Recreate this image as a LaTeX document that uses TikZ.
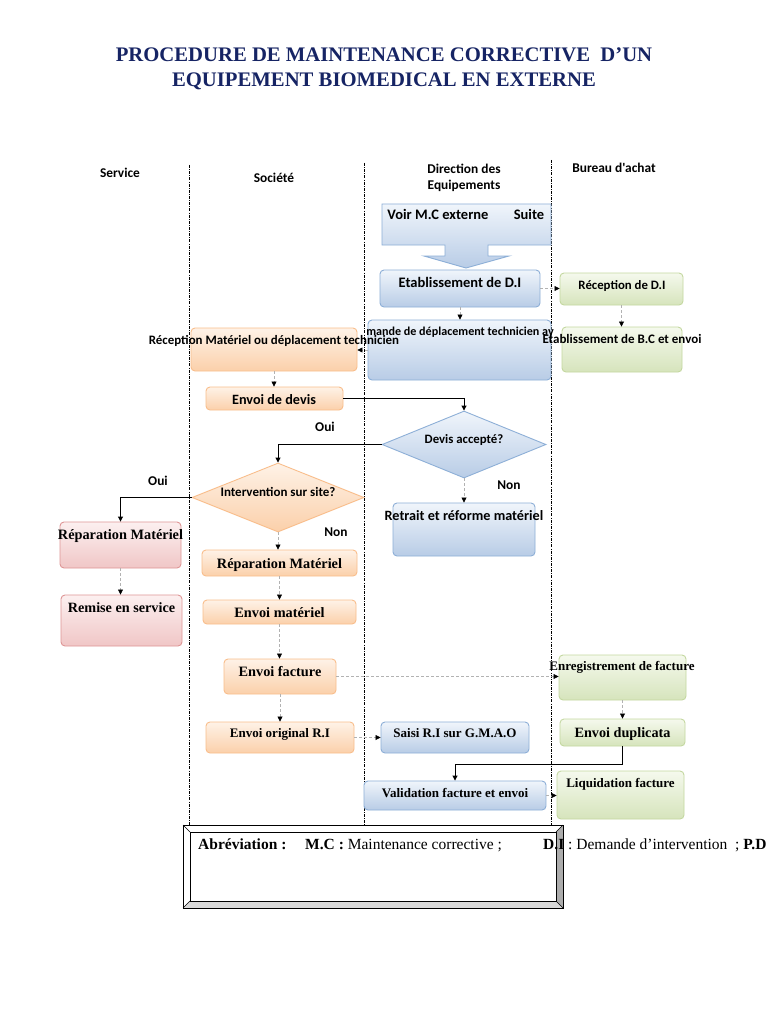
\documentclass[tikz,border=0pt]{standalone}
\usepackage{fontspec}
\setmainfont{Liberation Serif}
\newfontfamily\cb{Carlito}
\usetikzlibrary{arrows.meta,fit,shapes.geometric}
\definecolor{titlec}{RGB}{22,36,100}
\definecolor{bluetop}{RGB}{240,245,251}
\definecolor{bluebot}{RGB}{184,204,230}
\definecolor{bluedraw}{RGB}{141,175,215}
\definecolor{orgtop}{RGB}{254,242,231}
\definecolor{orgbot}{RGB}{251,208,170}
\definecolor{orgdraw}{RGB}{249,190,140}
\definecolor{grntop}{RGB}{245,249,237}
\definecolor{grnbot}{RGB}{214,228,188}
\definecolor{grndraw}{RGB}{196,216,160}
\definecolor{redtop}{RGB}{252,240,240}
\definecolor{redbot}{RGB}{240,198,198}
\definecolor{reddraw}{RGB}{222,150,150}
\tikzset{
  box/.style={rounded corners=4pt, line width=0.9pt, inner sep=0pt},
  bbox/.style={box, draw=bluedraw, top color=bluetop, bottom color=bluebot},
  obox/.style={box, draw=orgdraw, top color=orgtop, bottom color=orgbot},
  gbox/.style={box, draw=grndraw, top color=grntop, bottom color=grnbot},
  rbox/.style={box, draw=reddraw, top color=redtop, bottom color=redbot},
  lane/.style={black, line width=0.7pt, dash pattern=on 3pt off 1.2pt on 0.8pt off 1.2pt},
  con/.style={gray!60, line width=0.7pt, dash pattern=on 3pt off 2pt, -{Triangle[length=5pt,width=5pt,color=black]}},
  scon/.style={black, line width=0.9pt, -{Triangle[length=5pt,width=5pt]}},
  txt/.style={anchor=base, inner sep=0pt},
  hd/.style={txt, font=\cb\bfseries\fontsize{13.4}{15}\selectfont},
  ct/.style={txt, font=\cb\bfseries\fontsize{#1}{#1}\selectfont},
  tt/.style={txt, font=\bfseries\fontsize{#1}{#1}\selectfont},
}
\begin{document}
\begin{tikzpicture}[x=1pt,y=-1pt]
\useasboundingbox[fill=white] (0,0) rectangle (768,1024);

% title
\node[txt, text=titlec, font=\bfseries\fontsize{20.7}{21}\selectfont] (t1) at (384,62) {PROCEDURE DE MAINTENANCE CORRECTIVE\ \ D’UN};
\node[txt, text=titlec, font=\bfseries\fontsize{20.7}{21}\selectfont] (t2) at (384,87) {EQUIPEMENT BIOMEDICAL EN EXTERNE};

% lane headers
\node[hd] (h1) at (120,178) {Service};
\node[hd] (h2) at (274,183) {Société};
\node[hd] (h3) at (464,174) {Direction des};
\node[hd] (h3b) at (464,190) {Equipements};
\node[hd] (h4) at (614,173) {Bureau d{\char"27}achat};

% lanes
\draw[lane] (189,165) -- (189,825);
\draw[lane] (364,163) -- (364,825);
\draw[lane] (551,160) -- (551,825);

% top arrow shape
\path[draw=bluedraw, line width=0.9pt, top color=bluetop, bottom color=bluebot]
  (382,204) -- (551,204) -- (551,245) -- (488,245) -- (488,256) -- (509,256)
  -- (466,268) -- (424,256) -- (445,256) -- (445,245) -- (382,245) -- cycle;
\node[ct=14.5] (voir) at (438,220) {Voir M.C externe};
\node[ct=14.5] (suite) at (529,220) {Suite};

% boxes
\node[bbox, fit={(380,270)(540,307)}] (edi) {};
\node[ct=14.5] at (460,287) {Etablissement de D.I};
\node[gbox, fit={(560,273)(683,305)}] (rdi) {};
\node[ct=12.8] at (622,289) {Réception de D.I};
\node[gbox, fit={(562,327)(682,372)}] (ebc) {};
\node[bbox, fit={(368,320)(551,380)}] (dem) {};
\node[obox, fit={(191,328)(357,371)}] (rec) {};
\node[ct=12.1] (tdem) at (460,335) {mande de déplacement technicien av};
\node[ct=12.9] (trec) at (274,344) {Réception Matériel ou déplacement technicien};
\node[ct=13] (tebc) at (622,343) {Etablissement de B.C et envoi};

\node[obox, fit={(206,387)(343,410)}] (dev) {};
\node[ct=14.2] at (274,404) {Envoi de devis};

\node[diamond, draw=bluedraw, line width=0.9pt, top color=bluetop, bottom color=bluebot,
      minimum width=164pt, minimum height=67pt, inner sep=0pt] (dva) at (464,444.5) {};
\node[ct=12.8] at (464,443.5) {Devis accepté?};
\node[ct=13.4] (oui1) at (325,431.5) {Oui};
\node[ct=13.4] (non1) at (509,489.5) {Non};

\node[bbox, fit={(393,503)(535,556)}] (ret) {};
\node[ct=14.2] at (464,520.5) {Retrait et réforme matériel};

\node[diamond, draw=orgdraw, line width=0.9pt, top color=orgtop, bottom color=orgbot,
      minimum width=172pt, minimum height=69pt, inner sep=0pt] (int) at (278,497.5) {};
\node[ct=13] at (278,496.5) {Intervention sur site?};
\node[ct=13.4] (oui2) at (158,485.5) {Oui};
\node[ct=13.4] (non2) at (336,536.5) {Non};

\node[rbox, fit={(60,522)(181,568)}] (rep1) {};
\node[tt=14.3] at (120.5,539) {Réparation Matériel};
\node[rbox, fit={(61,595)(182,646)}] (rem) {};
\node[tt=14.2] at (121.5,612) {Remise en service};

\node[obox, fit={(202,550)(357,576)}] (rep2) {};
\node[tt=14.3] at (279.5,568) {Réparation Matériel};
\node[obox, fit={(203,600)(356,624)}] (envm) {};
\node[tt=14.3] at (279.5,617) {Envoi matériel};
\node[obox, fit={(224,659)(336,694)}] (envf) {};
\node[tt=14.3] at (280,676) {Envoi facture};
\node[obox, fit={(206,722)(354,753)}] (envo) {};
\node[tt=13] at (280,737.5) {Envoi original R.I};
\node[bbox, fit={(381,722)(529,753)}] (saisi) {};
\node[tt=13] at (455,737.5) {Saisi R.I sur G.M.A.O};

\node[gbox, fit={(559,655)(686,700)}] (enr) {};
\node[tt=13] at (622,670.5) {Enregistrement de facture};
\node[gbox, fit={(560,719)(685,746)}] (dup) {};
\node[tt=14.2] at (622.5,737) {Envoi duplicata};
\node[bbox, fit={(364,781)(546,810)}] (val) {};
\node[tt=13] at (455,797.5) {Validation facture et envoi};
\node[gbox, fit={(557,771)(684,819)}] (liq) {};
\node[tt=13] at (620.5,787.5) {Liquidation facture};

% connectors
\draw[con] (edi.east) -- (edi.east -| rdi.west);
\draw[con] (rdi.south) -- (rdi.south |- ebc.north);
\draw[con] (edi.south) -- (edi.south |- dem.north);
\draw[con] (dem.west) -- (dem.west -| rec.east);
\draw[con] (rec.south) -- (rec.south |- dev.north);
\draw[scon] (dev.east) -| (dva.north);
\draw[scon] (dva.west) -| (int.north);
\draw[con] (dva.south) -- (dva.south |- ret.north);
\draw[scon] (int.west) -| (rep1.north);
\draw[con] (int.south) -- (int.south |- rep2.north);
\draw[con] (rep1.south) -- (rep1.south |- rem.north);
\draw[con] (rep2.south) -- (rep2.south |- envm.north);
\draw[con] (envm.south) -- (envm.south |- envf.north);
\draw[con] (envf.east) -- (envf.east -| enr.west);
\draw[con] (envf.south) -- (envf.south |- envo.north);
\draw[con] (envo.east) -- (envo.east -| saisi.west);
\draw[con] (enr.south) -- (enr.south |- dup.north);
\draw[scon] (dup.south) -- ++(0,18) -| (val.north);
\draw[con] (val.east) -- (val.east -| liq.west);

% abbreviation box
\fill[white] (183,825) rectangle (563,908);
\fill[gray!65] (563,825) -- (563,908) -- (556,901) -- (556,832) -- cycle;
\fill[gray!30] (183,908) -- (563,908) -- (556,901) -- (190,901) -- cycle;
\draw[black, line width=0.8pt] (183,825) rectangle (563,908);
\draw[black, line width=0.6pt] (190,832) rectangle (556,901);
\draw[black, line width=0.5pt] (183,825) -- (190,832) (563,825) -- (556,832)
  (183,908) -- (190,901) (563,908) -- (556,901);
\node[anchor=base west, inner sep=0pt, font=\bfseries\fontsize{15.5}{15.5}\selectfont] (ab1) at (198,849) {Abréviation :};
\node[anchor=base west, inner sep=0pt, font=\fontsize{15.5}{15.5}\selectfont] (ab2) at (305,849) {\textbf{M.C :} Maintenance corrective ;};
\node[anchor=base west, inner sep=0pt, font=\fontsize{15.5}{15.5}\selectfont] (ab3) at (543,849) {\textbf{D.I} : Demande d{\char"27}intervention\ \ ; \textbf{P.D}};
\end{tikzpicture}
\end{document}
